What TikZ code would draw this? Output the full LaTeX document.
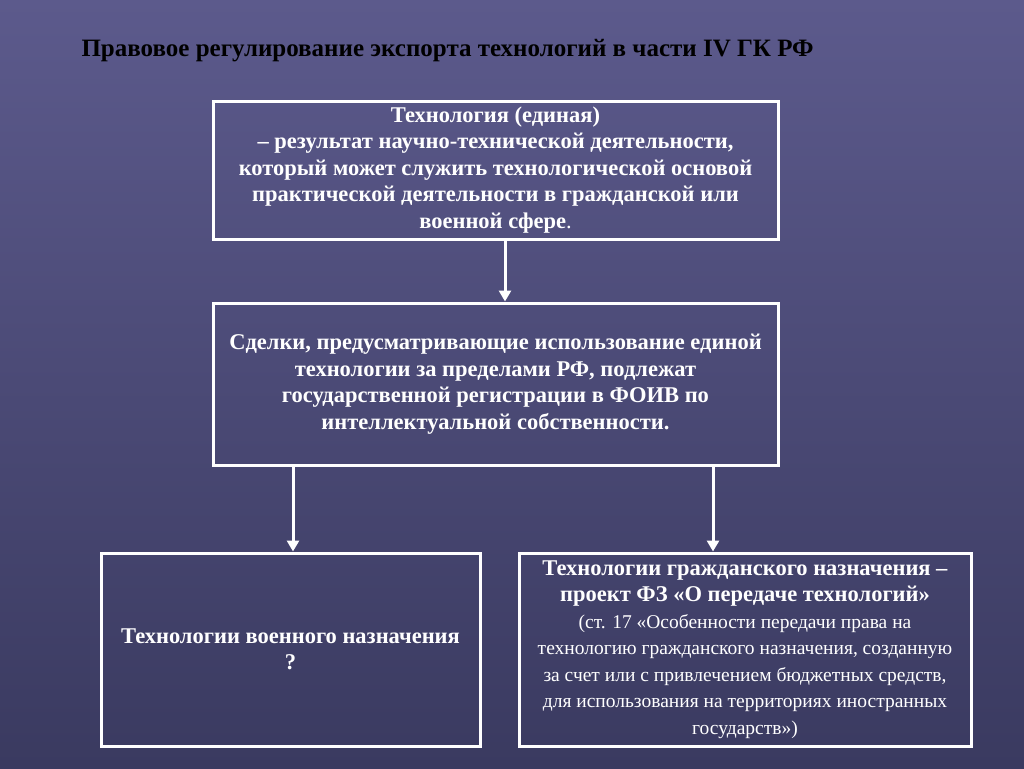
\documentclass[tikz,border=0pt]{standalone}
\usepackage{fontspec}
\setmainfont{Liberation Serif}
\usetikzlibrary{arrows.meta,positioning}
\tikzset{
  infobox/.style={draw=white,line width=3pt,text=white,align=center,
    inner sep=4pt,font=\bfseries\fontsize{22.5}{26.5}\selectfont},
  flowarrow/.style={draw=white,line width=3pt,-{Triangle[length=11pt,width=12pt]}}
}
\begin{document}
\begin{tikzpicture}[x=1pt,y=-1pt]
  \shade[top color={rgb,255:red,92;green,90;blue,140},bottom color={rgb,255:red,58;green,58;blue,96}]
    (0,0) rectangle (1024,768);
  \useasboundingbox (0,0) rectangle (1024,768);

  \node[anchor=west,font=\bfseries\fontsize{25}{28}\selectfont] (title) at (78,51)
    {Правовое регулирование экспорта технологий в части IV ГК РФ};

  \node[infobox,minimum width=565pt,minimum height=138pt] (tech) at (495.5,170)
    {Технология (единая)\\– результат научно-технической деятельности,\\который может служить технологической основой\\практической деятельности в гражданской или\\военной сфере\mdseries.};
  \node[infobox,minimum width=565pt,minimum height=162pt] (deal) at (495.5,384)
    {Сделки, предусматривающие использование единой\\технологии за пределами РФ, подлежат\\государственной регистрации в ФОИВ по\\интеллектуальной собственности.};
  \node[infobox,minimum width=379pt,minimum height=193pt] (mil) at (290.5,649.5)
    {Технологии военного назначения\\?};
  \node[infobox,minimum width=452pt,minimum height=193pt] (civ) at (745,649.5)
    {Технологии гражданского назначения –\\проект ФЗ «О передаче технологий»\\
     \mdseries\fontsize{19.5}{22}\selectfont (ст. 17 «Особенности передачи права на\\\mdseries\fontsize{19.5}{22}\selectfont технологию гражданского назначения, созданную\\\mdseries\fontsize{19.5}{22}\selectfont за счет или с привлечением бюджетных средств,\\\mdseries\fontsize{19.5}{22}\selectfont для использования на территориях иностранных\\\mdseries\fontsize{19.5}{22}\selectfont государств»)};

  \coordinate (c1) at (505,0);
  \coordinate (c2) at (293,0);
  \coordinate (c3) at (713,0);
  \draw[flowarrow] (tech.south -| c1) -- (deal.north -| c1);
  \draw[flowarrow] (deal.south -| c2) -- (mil.north -| c2);
  \draw[flowarrow] (deal.south -| c3) -- (civ.north -| c3);
\end{tikzpicture}
\end{document}
